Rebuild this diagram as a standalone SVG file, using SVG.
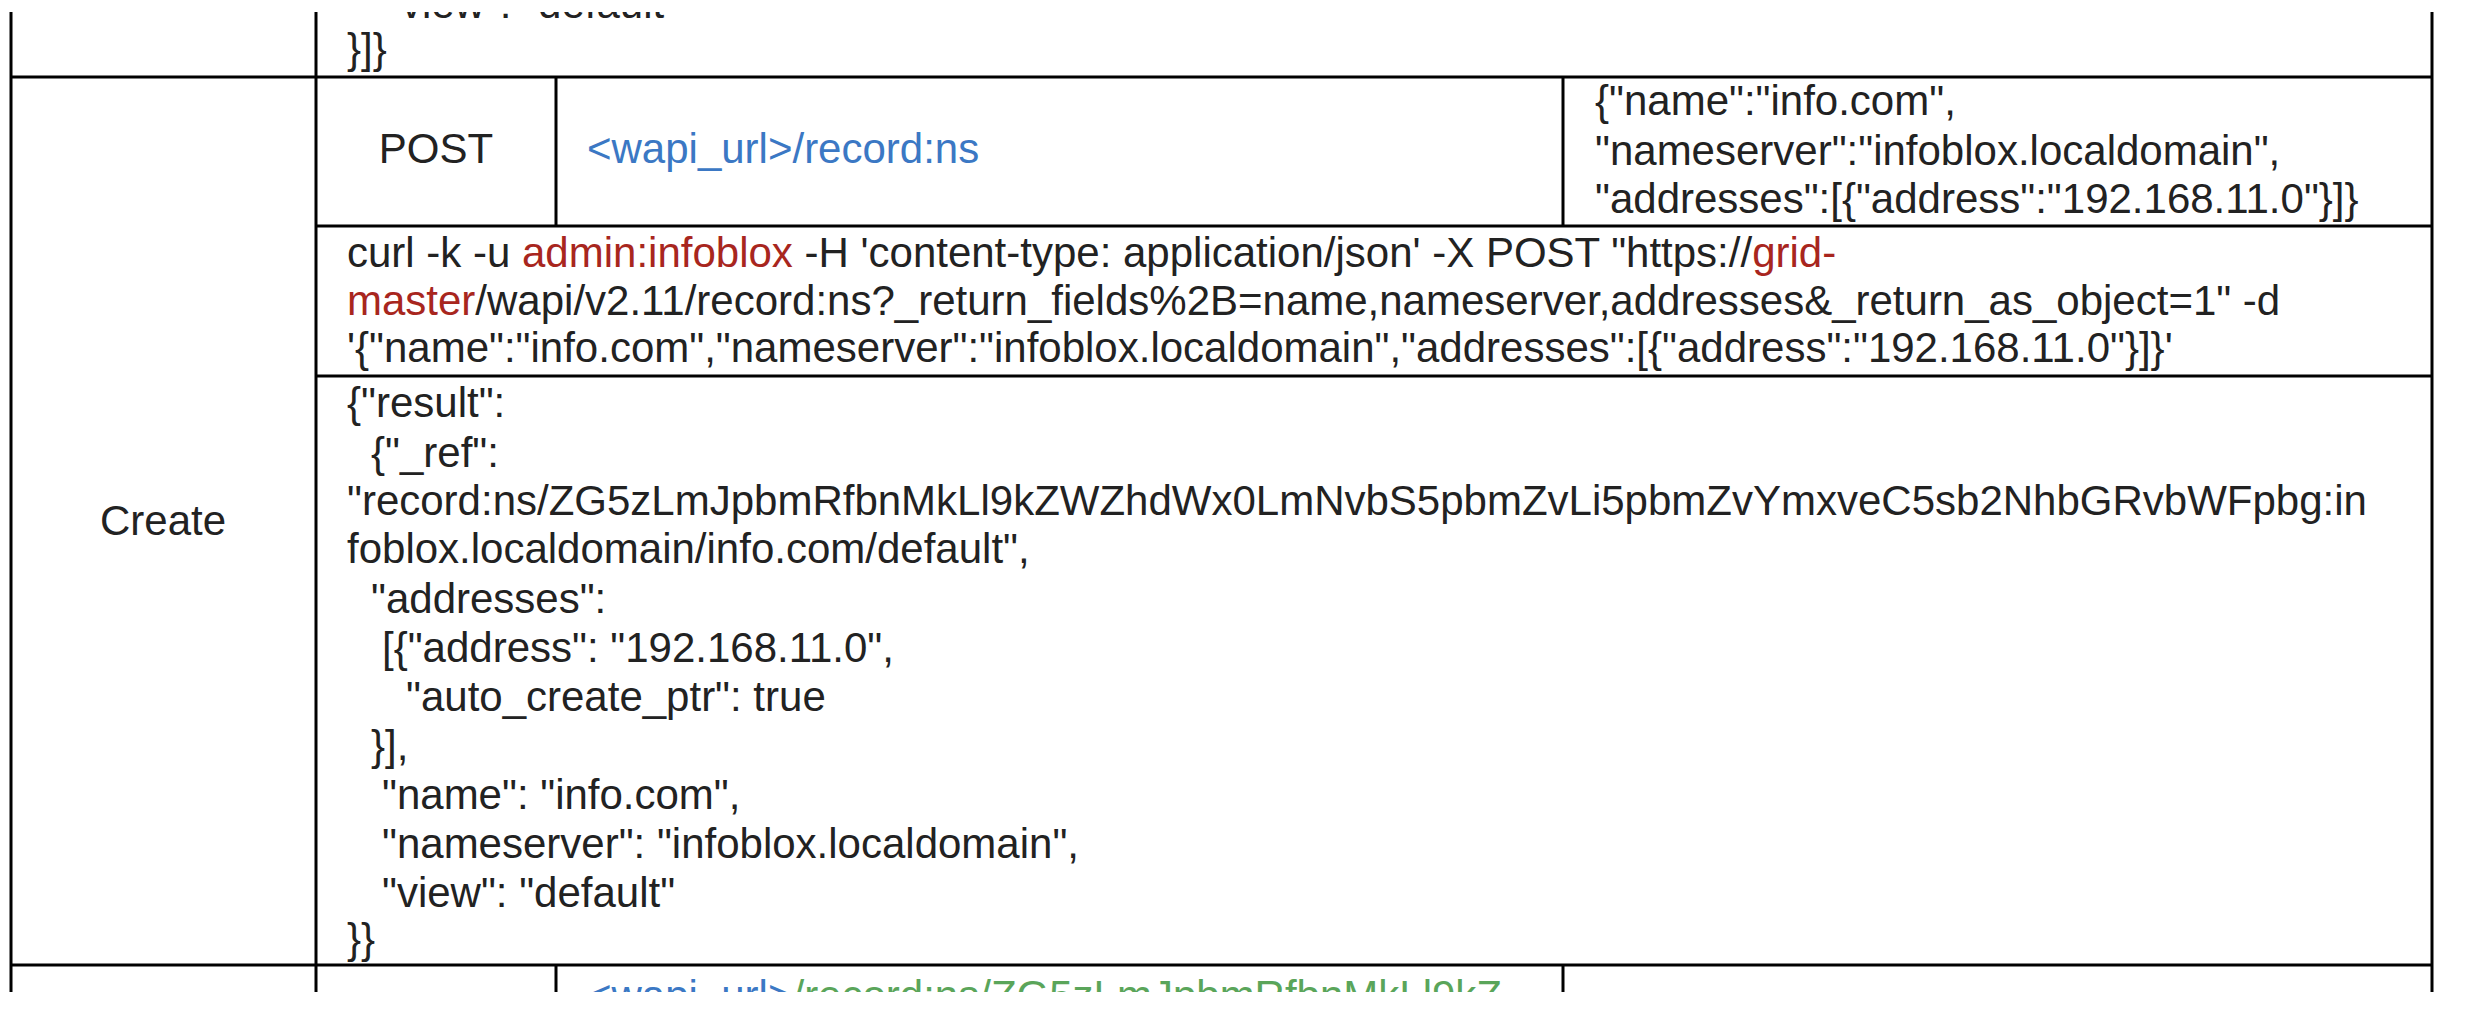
<svg xmlns="http://www.w3.org/2000/svg" width="2472" height="1012" viewBox="0 0 2472 1012">
<style>
text{font-family:"Liberation Sans",Arial,sans-serif;font-size:42px;fill:#222}
.b{fill:#3b78c4}.r{fill:#a8261e}.g{fill:#5aa55a}
.l{stroke:#000;stroke-width:3;fill:none}
.m{text-anchor:middle}
</style>
<defs><clipPath id="c"><rect x="0" y="12" width="2472" height="980"/></clipPath></defs>
<rect width="2472" height="1012" fill="#fff"/>
<g clip-path="url(#c)">
<g id="connectors">
<path class="l" d="M11 0V992M316 0V992M2432 0V992M11 77H2432M316 226H2432M316 376H2432M11 965H2432M556 77V226M1563 77V226M556 965V992M1563 965V992"/>
</g>
<g id="prev">
<text x="386" y="18">"view": "default"</text>
<text x="347" y="63">}]}</text>
</g>
<g id="create-label"><text class="m" x="163" y="535">Create</text></g>
<g id="method"><text class="m" x="436" y="163">POST</text></g>
<g id="url"><text class="b" x="587" y="163">&lt;wapi_url&gt;/record:ns</text></g>
<g id="body">
<text x="1595" y="115">{"name":"info.com",</text>
<text x="1595" y="165">"nameserver":"infoblox.localdomain",</text>
<text x="1595" y="213">"addresses":[{"address":"192.168.11.0"}]}</text>
</g>
<g id="curl">
<text x="347" y="267">curl -k -u <tspan class="r">admin:infoblox</tspan> -H 'content-type: application/json' -X POST "https://<tspan class="r">grid-</tspan></text>
<text x="347" y="315"><tspan class="r">master</tspan>/wapi/v2.11/record:ns?_return_fields%2B=name,nameserver,addresses&amp;_return_as_object=1" -d</text>
<text x="347" y="362">'{"name":"info.com","nameserver":"infoblox.localdomain","addresses":[{"address":"192.168.11.0"}]}'</text>
</g>
<g id="result">
<text x="347" y="417">{"result":</text>
<text x="371" y="467">{"_ref":</text>
<text x="347" y="515">"record:ns/ZG5zLmJpbmRfbnMkLl9kZWZhdWx0LmNvbS5pbmZvLi5pbmZvYmxveC5sb2NhbGRvbWFpbg:in</text>
<text x="347" y="563">foblox.localdomain/info.com/default",</text>
<text x="371" y="613">"addresses":</text>
<text x="382" y="662">[{"address": "192.168.11.0",</text>
<text x="406" y="711">"auto_create_ptr": true</text>
<text x="371" y="760">}],</text>
<text x="382" y="809">"name": "info.com",</text>
<text x="382" y="858">"nameserver": "infoblox.localdomain",</text>
<text x="382" y="907">"view": "default"</text>
<text x="347" y="953">}}</text>
</g>
<g id="next"><text x="587" y="1010"><tspan class="b">&lt;wapi_url&gt;</tspan><tspan class="g">/record:ns/ZG5zLmJpbmRfbnMkLl9kZ</tspan></text></g>
</g>
</svg>
